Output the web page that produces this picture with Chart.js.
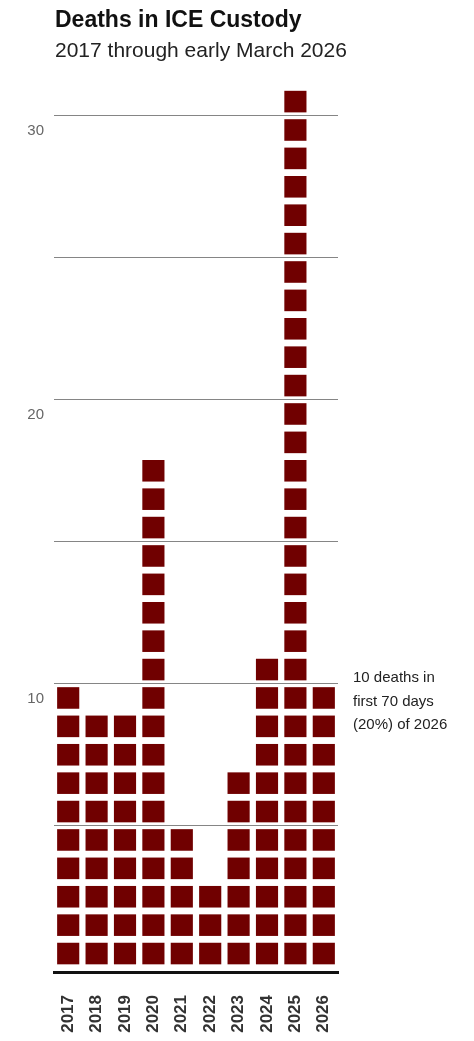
<!DOCTYPE html>
<html>
<head>
<meta charset="utf-8">
<script src="https://cdn.jsdelivr.net/npm/chart.js@4"></script>
<style>
  body { margin: 0; background: #fff; font-family: "Liberation Sans", Arial, sans-serif; }
  #wrap { position: relative; width: 474px; height: 1041px; }
  #box { position: absolute; left: 0; top: 0; width: 474px; height: 1041px; }
  .title { position: absolute; left: 55px; top: 7px; font-size: 23px; line-height: 24px; font-weight: bold; color: #111; white-space: nowrap; }
  .sub { position: absolute; left: 55px; top: 38px; font-size: 21px; line-height: 24px; color: #222; white-space: nowrap; }
  .note { position: absolute; left: 353px; top: 665px; font-size: 15px; line-height: 23.5px; color: #222; }
</style>
</head>
<body>
<div id="wrap">
  <div id="box"><canvas id="deathsChart"></canvas></div>
  <div class="title">Deaths in ICE Custody</div>
  <div class="sub">2017 through early March 2026</div>
  <div class="note">10 deaths in<br>first 70 days<br>(20%) of 2026</div>
</div>
<script>
// values
const years = ['2017', '2018', '2019', '2020', '2021', '2022', '2023', '2024', '2025', '2026'];
const deaths = [10, 9, 9, 18, 5, 3, 7, 11, 31, 10];
const gridValues = [5, 10, 15, 20, 25, 30];
const labelValues = [10, 20, 30];

// one dataset per row of squares, each square is a floating bar
var rows = Math.max(...deaths);
var datasets = [];
for (var k = 1; k <= rows; k++) {
    datasets.push({
        data: deaths.map(d => d >= k ? [k - 0.88, k - 0.12] : null),
        backgroundColor: '#700000',
        grouped: false,
        barPercentage: 0.78,
        categoryPercentage: 1
    });
}

var chart = document.getElementById('deathsChart');
new Chart(chart, {
    type: 'bar',
    data: {
        labels: years,
        datasets: datasets
    },
    options: {
        responsive: true,
        maintainAspectRatio: false,
        animation: false,
        layout: { padding: { top: 59, right: 136, bottom: 0, left: 0 } },
        plugins: {
            legend: { display: false },
            tooltip: { enabled: false }
        },
        scales: {
            x: {
                grid: { display: false, drawTicks: false },
                border: { color: '#111', width: 3 },
                afterFit: function(s) { s.height = 69; },
                ticks: {
                    minRotation: 90,
                    maxRotation: 90,
                    padding: 23,
                    color: '#333',
                    font: { family: '"Liberation Sans", Arial, sans-serif', size: 17, weight: 'bold' }
                }
            },
            y: {
                min: -0.15,
                max: 32,
                afterFit: function(s) { s.width = 54; },
                afterBuildTicks: function(s) {
                    s.ticks = gridValues.map(v => ({ value: v }));
                },
                grid: { color: '#858585', lineWidth: 1, drawTicks: false },
                border: { display: false },
                ticks: {
                    padding: 10,
                    labelOffset: 15,
                    color: '#666',
                    font: { family: '"Liberation Sans", Arial, sans-serif', size: 15 },
                    callback: function(v) { return labelValues.includes(v) ? v : ''; }
                }
            }
        }
    }
});
</script>
</body>
</html>
